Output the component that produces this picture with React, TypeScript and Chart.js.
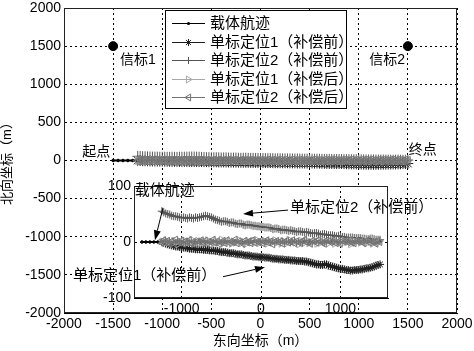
import React, { useEffect, useRef } from 'react';
import { Chart, registerables } from 'chart.js';

Chart.register(...registerables);

const FONT = '"Liberation Sans", "Noto Sans CJK SC", sans-serif';

// ---------- data ----------
const seriesNames = ['载体航迹', '单标定位1（补偿前）', '单标定位2（补偿前）', '单标定位1（补偿后）', '单标定位2（补偿后）'];

const mainTicks = [-2000, -1500, -1000, -500, 0, 500, 1000, 1500, 2000];
const insetXTicks = [-1000, 0, 1000];
const insetYTicks = [-100, 0, 100];

const trajX = [-1500, -1450, -1400, -1350, -1300, -1250, -1200, -1150, -1100, -1050, -1000, -950, -900, -850, -800, -750, -700, -650, -600, -550, -500, -450, -400, -350, -300, -250, -200, -150, -100, -50, 0, 50, 100, 150, 200, 250, 300, 350, 400, 450, 500, 550, 600, 650, 700, 750, 800, 850, 900, 950, 1000, 1050, 1100, 1150, 1200, 1250, 1300, 1350, 1400, 1450, 1500];
const trajY = [0, 0, 0, 0, 0, 0, 0, 0, 0, 0, 0, 0, 0, 0, 0, 0, 0, 0, 0, 0, 0, 0, 0, 0, 0, 0, 0, 0, 0, 0, 0, 0, 0, 0, 0, 0, 0, 0, 0, 0, 0, 0, 0, 0, 0, 0, 0, 0, 0, 0, 0, 0, 0, 0, 0, 0, 0, 0, 0, 0, 0];

const posX = [
  -1250, -1225, -1200, -1175, -1150, -1125, -1100, -1075, -1050, -1025,
  -1000, -975, -950, -925, -900, -875, -850, -825, -800, -775,
  -750, -725, -700, -675, -650, -625, -600, -575, -550, -525,
  -500, -475, -450, -425, -400, -375, -350, -325, -300, -275,
  -250, -225, -200, -175, -150, -125, -100, -75, -50, -25,
  0, 25, 50, 75, 100, 125, 150, 175, 200, 225,
  250, 275, 300, 325, 350, 375, 400, 425, 450, 475,
  500, 525, 550, 575, 600, 625, 650, 675, 700, 725,
  750, 775, 800, 825, 850, 875, 900, 925, 950, 975,
  1000, 1025, 1050, 1075, 1100, 1125, 1150, 1175, 1200, 1225,
  1250, 1275, 1300, 1325, 1350, 1375, 1400, 1425, 1450, 1475,
  1500,
];
const pos1Before = [
  0, -1, -3, -4, -5, -6, -7, -8, -8, -9,
  -9, -10, -10, -11, -12, -12, -12, -13, -13, -13,
  -13, -14, -14, -14, -15, -15, -15, -16, -16, -17,
  -18, -18, -18, -19, -20, -20, -20, -21, -22, -22,
  -22, -23, -24, -24, -24, -25, -26, -26, -26, -27,
  -27, -27, -28, -28, -28, -29, -30, -30, -30, -31,
  -31, -31, -32, -32, -32, -33, -33, -33, -34, -34,
  -34, -34, -35, -35, -36, -37, -38, -39, -40, -40,
  -41, -41, -40, -40, -42, -43, -44, -45, -46, -47,
  -48, -48, -49, -50, -50, -51, -51, -50, -50, -50,
  -49, -49, -48, -47, -47, -46, -45, -44, -42, -41,
  -40,
];
const pos2Before = [
  55, 53, 51, 50, 49, 47, 46, 46, 45, 44,
  43, 44, 43, 42, 44, 43, 42, 44, 43, 44,
  45, 46, 47, 46, 45, 44, 42, 40, 39, 38,
  36, 37, 37, 36, 34, 35, 35, 33, 32, 33,
  33, 31, 30, 31, 31, 30, 29, 29, 28, 28,
  27, 27, 26, 26, 26, 25, 23, 24, 24, 23,
  21, 22, 22, 21, 20, 21, 20, 19, 18, 19,
  19, 18, 17, 18, 17, 16, 15, 16, 16, 15,
  13, 14, 14, 13, 12, 12, 12, 11, 10, 11,
  10, 9, 9, 8, 8, 8, 8, 7, 7, 7,
  7, 6, 6, 5, 5, 6, 6, 5, 4, 4,
  4,
];
const pos1After = [
  2, -3, 4, -2, 1, -4, 3, 0, -5, 2,
  -1, 4, -3, 1, -2, 5, -4, 0, 3, -1,
  -3, 2, -2, 4, -1, 1, -4, 3, -2, 0,
  5, -3, 1, -1, 3, -4, 2, -2, 0, 4,
  -3, 1, -5, 2, 0, -2, 3, -1, 4, -3,
  1, -2, 2, -4, 3, 0, -1, 4, -2, 1,
  -4, 3, 0, -3, 5, -1, 2, -2, 1, -5,
  3, 0, -2, 4, -3, 1, -1, 2, -4, 3,
  -2, 5, -1, 0, -3, 2, 4, -4, 1, -1,
  2, -3, 3, -1, 0, -5, 4, -2, 1, 3,
  -2, 0, 4, -3, 2, -1, -4, 3, 1, -2,
  2,
];
const pos2After = [
  -2, 4, -1, 3, -4, 2, -3, 5, 1, -2,
  3, -4, 2, -1, 4, -3, 1, -5, 2, 0,
  4, -2, 3, -3, 1, -1, 5, -2, 2, -4,
  -1, 3, -3, 4, -2, 1, -1, 5, -3, 2,
  0, -4, 3, -1, 2, -3, 4, -2, 1, -1,
  3, -3, 0, 4, -2, 2, -5, 1, 3, -1,
  2, -4, 1, 3, -2, 0, 4, -3, 2, -1,
  -3, 2, 5, -1, 0, -4, 3, 1, -2, 4,
  1, -2, -4, 3, 2, -1, 0, 5, -3, 1,
  -4, 2, 0, 3, -1, 4, -2, -3, 2, 0,
  3, -1, -3, 2, 4, -2, 1, 0, -4, 3,
  -1,
];

const beaconX = [-1500, 1500];
const beaconY = [1500, 1500];

const mainNotes = [
  { text: '起点', x: -1530, y: 110, align: 'right' },
  { text: '终点', x: 1510, y: 140, align: 'left' },
  { text: '信标1', x: -1430, y: 1320, align: 'left' },
  { text: '信标2', x: 1470, y: 1320, align: 'right' },
];
const insetNotes = [
  { text: '载体航迹', x: -1590, y: 91, align: 'left' },
  { text: '单标定位2（补偿前）', x: 365, y: 61, align: 'left' },
  { text: '单标定位1（补偿前）', x: -2370, y: -61, align: 'left' },
];
const insetArrows = [
  { fx: -1235, fy: 61, tx: -1336, ty: 3 },
  { fx: 340, fy: 57, tx: -227, ty: 50 },
  { fx: -479, fy: -62, tx: 50, ty: -45 },
];

// ---------- styles ----------
const seriesStyle = [
  { color: '#000000', point: 'circle', marker: 'dot', rotation: 0, radius: 1.3, lineWidth: 1.8, fill: true },
  { color: '#1e1e1e', point: 'star', marker: 'star', rotation: 0, radius: 4, lineWidth: 1, fill: false },
  { color: '#555555', point: 'cross', marker: 'cross', rotation: 0, radius: 4, lineWidth: 1, fill: false },
  { color: '#a8a8a8', point: 'triangle', marker: 'triR', rotation: 90, radius: 3.5, lineWidth: 1, fill: false },
  { color: '#727272', point: 'triangle', marker: 'triL', rotation: -90, radius: 3.5, lineWidth: 1, fill: false },
];
const seriesData = [
  [trajX, trajY],
  [posX, pos1Before],
  [posX, pos2Before],
  [posX, pos1After],
  [posX, pos2After],
];

function pts(xs: number[], ys: number[]) {
  return xs.map((x, i) => ({ x, y: ys[i] }));
}

function buildDatasets(withBeacons: boolean, markerScale: number) {
  const ds: any[] = seriesNames.map((name, i) => {
    const s = seriesStyle[i];
    return {
      label: name,
      data: pts(seriesData[i][0], seriesData[i][1]),
      showLine: true,
      borderColor: s.color,
      borderWidth: s.lineWidth,
      pointStyle: s.point,
      pointRotation: s.rotation,
      pointRadius: i === 0 ? s.radius : s.radius * markerScale,
      pointBorderColor: s.color,
      pointBackgroundColor: s.fill ? s.color : 'rgba(0,0,0,0)',
      pointBorderWidth: 1,
      order: 4 - i,
    };
  });
  if (withBeacons) {
    ds.push({
      label: 'beacons',
      data: pts(beaconX, beaconY),
      showLine: false,
      pointStyle: 'circle',
      pointRadius: 4.5,
      pointBorderColor: '#000',
      pointBackgroundColor: '#000',
      order: 5,
    });
  }
  return ds;
}

function drawMarker(ctx: CanvasRenderingContext2D, kind: string, x: number, y: number, r: number, color: string) {
  ctx.save();
  ctx.strokeStyle = color;
  ctx.fillStyle = color;
  ctx.lineWidth = 1;
  ctx.beginPath();
  if (kind === 'dot') {
    ctx.arc(x, y, 1.6, 0, Math.PI * 2);
    ctx.fill();
  } else if (kind === 'star' || kind === 'cross') {
    ctx.moveTo(x - r, y); ctx.lineTo(x + r, y);
    ctx.moveTo(x, y - r); ctx.lineTo(x, y + r);
    if (kind === 'star') {
      const d = r * 0.7;
      ctx.moveTo(x - d, y - d); ctx.lineTo(x + d, y + d);
      ctx.moveTo(x - d, y + d); ctx.lineTo(x + d, y - d);
    }
    ctx.stroke();
  } else if (kind === 'triR') {
    ctx.moveTo(x + r, y); ctx.lineTo(x - r * 0.6, y - r); ctx.lineTo(x - r * 0.6, y + r); ctx.closePath();
    ctx.stroke();
  } else if (kind === 'triL') {
    ctx.moveTo(x - r, y); ctx.lineTo(x + r * 0.6, y - r); ctx.lineTo(x + r * 0.6, y + r); ctx.closePath();
    ctx.stroke();
  }
  ctx.restore();
}

function drawNotes(chart: any, notes: any[], size: number) {
  const { ctx, scales } = chart;
  ctx.save();
  ctx.font = `${size}px ${FONT}`;
  ctx.fillStyle = '#000';
  ctx.textBaseline = 'middle';
  notes.forEach((n) => {
    ctx.textAlign = n.align;
    ctx.fillText(n.text, scales.x.getPixelForValue(n.x), scales.y.getPixelForValue(n.y));
  });
  ctx.restore();
}

function drawBox(chart: any) {
  const { ctx, chartArea: a } = chart;
  ctx.save();
  ctx.strokeStyle = '#222';
  ctx.lineWidth = 1;
  ctx.strokeRect(Math.round(a.left) + 0.5, Math.round(a.top) + 0.5, Math.round(a.right - a.left) - 1, Math.round(a.bottom - a.top) - 1);
  ctx.restore();
}

const mainDeco = {
  id: 'mainDeco',
  afterDraw(chart: any) {
    const { ctx, chartArea: a } = chart;
    drawBox(chart);
    drawNotes(chart, mainNotes, 14);
    // legend
    const lx = Math.round(a.left) + 101;
    const ly = Math.round(a.top) + 2;
    const lw = 181;
    const lh = 98;
    ctx.save();
    ctx.fillStyle = '#fff';
    ctx.fillRect(lx, ly, lw, lh);
    ctx.strokeStyle = '#000';
    ctx.lineWidth = 1;
    ctx.strokeRect(lx + 0.5, ly + 0.5, lw, lh);
    ctx.font = `15px ${FONT}`;
    ctx.textBaseline = 'middle';
    ctx.textAlign = 'left';
    seriesNames.forEach((name, i) => {
      const s = seriesStyle[i];
      const y = Math.round(ly + 13 + i * 18.5) + 0.5;
      ctx.strokeStyle = s.color;
      ctx.lineWidth = 1;
      ctx.beginPath();
      ctx.moveTo(lx + 7, y);
      ctx.lineTo(lx + 40, y);
      ctx.stroke();
      drawMarker(ctx, s.marker, lx + 23.5, y, 3.5, s.color);
      ctx.fillStyle = '#000';
      ctx.fillText(name, lx + 45, y);
    });
    ctx.restore();
  },
};

const insetDeco = {
  id: 'insetDeco',
  beforeDraw(chart: any) {
    const { ctx, chartArea: a } = chart;
    ctx.save();
    ctx.fillStyle = '#fff';
    ctx.fillRect(a.left, a.top, a.right - a.left, a.bottom - a.top);
    ctx.restore();
  },
  afterDraw(chart: any) {
    const { ctx, scales } = chart;
    drawBox(chart);
    drawNotes(chart, insetNotes, 15);
    ctx.save();
    ctx.strokeStyle = '#000';
    ctx.fillStyle = '#000';
    ctx.lineWidth = 1;
    insetArrows.forEach((ar) => {
      const x1 = scales.x.getPixelForValue(ar.fx);
      const y1 = scales.y.getPixelForValue(ar.fy);
      const x2 = scales.x.getPixelForValue(ar.tx);
      const y2 = scales.y.getPixelForValue(ar.ty);
      const ang = Math.atan2(y2 - y1, x2 - x1);
      const L = 10, W = 3.5;
      const bx = x2 - L * Math.cos(ang);
      const by = y2 - L * Math.sin(ang);
      ctx.beginPath();
      ctx.moveTo(x1, y1);
      ctx.lineTo(bx, by);
      ctx.stroke();
      ctx.beginPath();
      ctx.moveTo(x2, y2);
      ctx.lineTo(bx + W * Math.sin(ang), by - W * Math.cos(ang));
      ctx.lineTo(bx - W * Math.sin(ang), by + W * Math.cos(ang));
      ctx.closePath();
      ctx.fill();
    });
    ctx.restore();
  },
};

function axis(min: number, max: number, ticks: number[], extra: any) {
  return {
    type: 'linear',
    min,
    max,
    afterBuildTicks(scale: any) {
      scale.ticks = ticks.map((v) => ({ value: v }));
    },
    ticks: {
      color: '#000',
      font: { family: FONT, size: 14 },
      padding: 3,
      maxRotation: 0,
      autoSkip: false,
      callback: (v: any) => String(v),
    },
    grid: { color: '#000', drawTicks: false, lineWidth: 1 },
    border: { dash: [2, 3], color: '#000' },
    ...extra,
  };
}

export default function App() {
  const mainRef = useRef<HTMLCanvasElement>(null);
  const insetRef = useRef<HTMLCanvasElement>(null);

  useEffect(() => {
    const main = new Chart(mainRef.current as HTMLCanvasElement, {
      type: 'scatter',
      data: { datasets: buildDatasets(true, 1.35) },
      options: {
        responsive: false,
        animation: false,
        events: [],
        layout: { padding: { left: 0, right: 17, top: 8, bottom: 0 } },
        plugins: { legend: { display: false }, tooltip: { enabled: false } },
        scales: {
          x: axis(-2000, 2000, mainTicks, {
            title: { display: true, text: '东向坐标（m）', color: '#000', font: { family: FONT, size: 14 }, padding: { top: 0, bottom: 1 } },
            afterFit(s: any) { s.height = 38; s.paddingLeft = 0; s.paddingRight = 0; },
          }),
          y: axis(-2000, 2000, mainTicks, {
            title: { display: true, text: '北向坐标（m）', color: '#000', font: { family: FONT, size: 13 }, padding: { top: 0, bottom: 0 } },
            afterFit(s: any) { s.width = 64; s.paddingTop = 0; s.paddingBottom = 0; },
          }),
        },
      } as any,
      plugins: [mainDeco],
    });

    const inset = new Chart(insetRef.current as HTMLCanvasElement, {
      type: 'scatter',
      data: { datasets: buildDatasets(false, 1) },
      options: {
        responsive: false,
        animation: false,
        events: [],
        layout: { padding: { left: 0, right: 86, top: 16, bottom: 0 } },
        plugins: { legend: { display: false }, tooltip: { enabled: false } },
        scales: {
          x: axis(-1600, 1600, insetXTicks, {
            afterFit(s: any) { s.height = 53; s.paddingLeft = 0; s.paddingRight = 0; },
          }),
          y: axis(-100, 100, insetYTicks, {
            afterFit(s: any) { s.width = 74; s.paddingTop = 0; s.paddingBottom = 0; },
          }),
        },
      } as any,
      plugins: [insetDeco],
    });

    return () => {
      main.destroy();
      inset.destroy();
    };
  }, []);

  return (
    <div style={{ position: 'fixed', left: 0, top: 0, width: 474, height: 351, background: '#fff' }}>
      <canvas ref={mainRef} width={474} height={351} style={{ position: 'absolute', left: 0, top: 0 }} />
      <canvas ref={insetRef} width={414} height={181} style={{ position: 'absolute', left: 60, top: 170 }} />
    </div>
  );
}
